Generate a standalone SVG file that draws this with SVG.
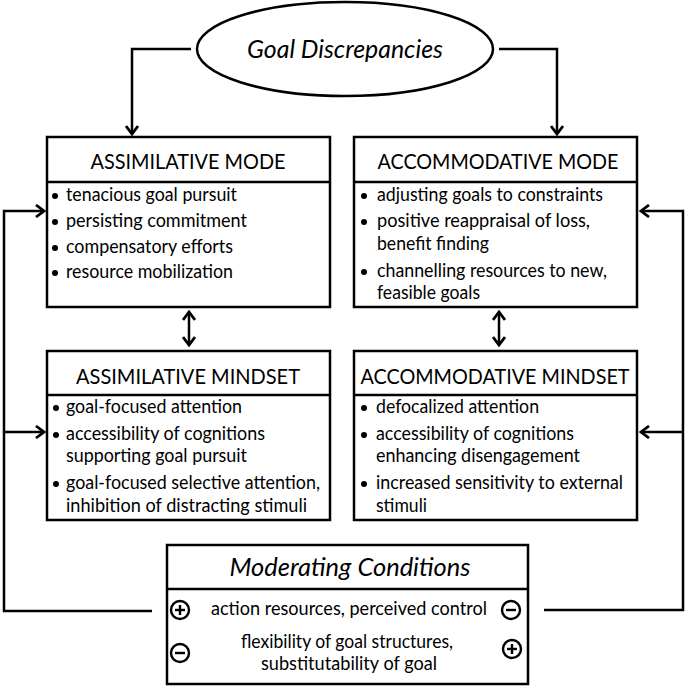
<svg xmlns="http://www.w3.org/2000/svg" width="685" height="687" viewBox="0 0 685 687">
<defs>
<style>
.box{fill:#fff;stroke:#000;stroke-width:2.5}
.div{stroke:#000;stroke-width:2.5}
.con{fill:none;stroke:#000;stroke-width:2.5}
.hd{font-family:Lato,"Liberation Sans",sans-serif;font-size:20.5px;fill:#000;text-anchor:middle}
.it{font-family:Lato,"Liberation Sans",sans-serif;font-size:25.5px;font-style:italic;fill:#000;text-anchor:middle}
.bt{font-family:Lato,"Liberation Sans",sans-serif;font-size:18.5px;fill:#000}
.ct{font-family:Lato,"Liberation Sans",sans-serif;font-size:18.5px;fill:#000;text-anchor:middle}
.sg{fill:#fff;stroke:#000;stroke-width:2.4}
.sl{stroke:#000;stroke-width:2.4}
</style>
<marker id="ah" viewBox="-10 -7 12 14" refX="0" refY="0" markerWidth="12" markerHeight="14" markerUnits="userSpaceOnUse" orient="auto-start-reverse">
<path d="M-8,-6 L0,0 L-8,6" fill="none" stroke="#000" stroke-width="2.8"/>
</marker>
</defs>
<rect width="685" height="687" fill="#fff"/>
<g id="connectors">
<path class="con" d="M191,49 H132 V134" marker-end="url(#ah)"/>
<path class="con" d="M499,49 H557 V134" marker-end="url(#ah)"/>
<path class="con" d="M152,611 H4 V211 H44" marker-end="url(#ah)"/>
<path class="con" d="M4,432 H44" marker-end="url(#ah)"/>
<path class="con" d="M544,610 H683 V211 H641" marker-end="url(#ah)"/>
<path class="con" d="M683,432 H641" marker-end="url(#ah)"/>
<path class="con" d="M189,312 V345" marker-start="url(#ah)" marker-end="url(#ah)"/>
<path class="con" d="M499,312 V345" marker-start="url(#ah)" marker-end="url(#ah)"/>
</g>
<g id="goal-discrepancies">
<ellipse class="box" cx="345" cy="49" rx="148" ry="47"/>
<text class="it" x="345" y="58" textLength="196" lengthAdjust="spacingAndGlyphs">Goal Discrepancies</text>
</g>
<g id="assimilative-mode">
<rect class="box" x="47" y="137" width="283" height="170"/>
<line class="div" x1="47" y1="182" x2="330" y2="182"/>
<text class="hd" x="188" y="169" textLength="195" lengthAdjust="spacingAndGlyphs">ASSIMILATIVE MODE</text>
<circle cx="55" cy="196" r="3"/><text class="bt" x="66" y="201" textLength="171" lengthAdjust="spacingAndGlyphs">tenacious goal pursuit</text>
<circle cx="55" cy="222" r="3"/><text class="bt" x="66" y="227" textLength="181" lengthAdjust="spacingAndGlyphs">persisting commitment</text>
<circle cx="55" cy="248" r="3"/><text class="bt" x="66" y="253" textLength="167" lengthAdjust="spacingAndGlyphs">compensatory efforts</text>
<circle cx="55" cy="273" r="3"/><text class="bt" x="66" y="278" textLength="167" lengthAdjust="spacingAndGlyphs">resource mobilization</text>
</g>
<g id="accommodative-mode">
<rect class="box" x="354" y="137" width="283" height="170"/>
<line class="div" x1="354" y1="182" x2="637" y2="182"/>
<text class="hd" x="498" y="169" textLength="241" lengthAdjust="spacingAndGlyphs">ACCOMMODATIVE MODE</text>
<circle cx="364" cy="196" r="3"/><text class="bt" x="377" y="201" textLength="226" lengthAdjust="spacingAndGlyphs">adjusting goals to constraints</text>
<circle cx="364" cy="222" r="3"/><text class="bt" x="377" y="227" textLength="213" lengthAdjust="spacingAndGlyphs">positive reappraisal of loss,</text>
<text class="bt" x="377" y="250" textLength="112" lengthAdjust="spacingAndGlyphs">benefit finding</text>
<circle cx="364" cy="272" r="3"/><text class="bt" x="377" y="277" textLength="230" lengthAdjust="spacingAndGlyphs">channelling resources to new,</text>
<text class="bt" x="377" y="299" textLength="103" lengthAdjust="spacingAndGlyphs">feasible goals</text>
</g>
<g id="assimilative-mindset">
<rect class="box" x="47" y="351" width="283" height="169"/>
<line class="div" x1="47" y1="395" x2="330" y2="395"/>
<text class="hd" x="188" y="384" textLength="224" lengthAdjust="spacingAndGlyphs">ASSIMILATIVE MINDSET</text>
<circle cx="56" cy="408" r="3"/><text class="bt" x="66" y="413" textLength="176" lengthAdjust="spacingAndGlyphs">goal-focused attention</text>
<circle cx="56" cy="435" r="3"/><text class="bt" x="66" y="440" textLength="199" lengthAdjust="spacingAndGlyphs">accessibility of cognitions</text>
<text class="bt" x="66" y="462" textLength="181" lengthAdjust="spacingAndGlyphs">supporting goal pursuit</text>
<circle cx="56" cy="484" r="3"/><text class="bt" x="66" y="489" textLength="254" lengthAdjust="spacingAndGlyphs">goal-focused selective attention,</text>
<text class="bt" x="66" y="512" textLength="241" lengthAdjust="spacingAndGlyphs">inhibition of distracting stimuli</text>
</g>
<g id="accommodative-mindset">
<rect class="box" x="354" y="351" width="283" height="169"/>
<line class="div" x1="354" y1="395" x2="637" y2="395"/>
<text class="hd" x="495" y="384" textLength="269" lengthAdjust="spacingAndGlyphs">ACCOMMODATIVE MINDSET</text>
<circle cx="364" cy="408" r="3"/><text class="bt" x="376" y="413" textLength="163" lengthAdjust="spacingAndGlyphs">defocalized attention</text>
<circle cx="364" cy="435" r="3"/><text class="bt" x="376" y="440" textLength="198" lengthAdjust="spacingAndGlyphs">accessibility of cognitions</text>
<text class="bt" x="376" y="462" textLength="204" lengthAdjust="spacingAndGlyphs">enhancing disengagement</text>
<circle cx="364" cy="484" r="3"/><text class="bt" x="376" y="489" textLength="247" lengthAdjust="spacingAndGlyphs">increased sensitivity to external</text>
<text class="bt" x="376" y="512" textLength="51" lengthAdjust="spacingAndGlyphs">stimuli</text>
</g>
<g id="moderating-conditions">
<rect class="box" x="167" y="545" width="361" height="139"/>
<line class="div" x1="167" y1="589" x2="528" y2="589"/>
<text class="it" x="350" y="576" textLength="241" lengthAdjust="spacingAndGlyphs">Moderating Conditions</text>
<text class="ct" x="349" y="615" textLength="276" lengthAdjust="spacingAndGlyphs">action resources, perceived control</text>
<text class="ct" x="347" y="648" textLength="212" lengthAdjust="spacingAndGlyphs">flexibility of goal structures,</text>
<text class="ct" x="349" y="670" textLength="176" lengthAdjust="spacingAndGlyphs">substitutability of goal</text>
<g id="sign-plus-1"><circle class="sg" cx="180" cy="610" r="9"/><line class="sl" x1="175" y1="610" x2="185" y2="610"/><line class="sl" x1="180" y1="605" x2="180" y2="615"/></g>
<g id="sign-minus-1"><circle class="sg" cx="180" cy="653" r="9"/><line class="sl" x1="175" y1="653" x2="185" y2="653"/></g>
<g id="sign-minus-2"><circle class="sg" cx="511" cy="610" r="9"/><line class="sl" x1="506" y1="610" x2="516" y2="610"/></g>
<g id="sign-plus-2"><circle class="sg" cx="512" cy="649" r="9"/><line class="sl" x1="507" y1="649" x2="517" y2="649"/><line class="sl" x1="512" y1="644" x2="512" y2="654"/></g>
</g>
</svg>
